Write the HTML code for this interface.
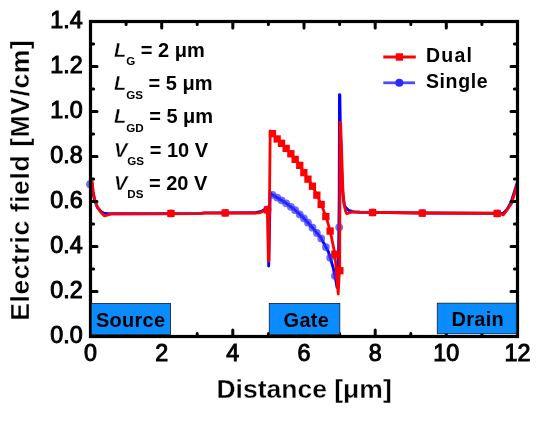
<!DOCTYPE html>
<html><head><meta charset="utf-8"><style>
html,body{margin:0;padding:0;background:#fff;}
svg{display:block;filter:blur(0.35px);}
</style></head><body>
<svg width="550" height="421" viewBox="0 0 550 421">
<rect width="550" height="421" fill="#fff"/>
<polyline points="90.5,184.3 92.5,190.0 94.5,200.0 97.5,207.5 101.0,211.5 104.0,213.2 108.0,213.6 112.0,213.7 200.0,213.6 204.0,212.9 255.0,212.8 262.0,211.2 266.0,208.5 268.0,207.0 268.7,266.0 270.2,192.5 271.2,194.0 284.0,201.7 293.6,208.8 303.1,217.4 311.4,226.4 320.9,237.8 328.5,252.0 333.3,268.2 336.1,281.5 337.0,287.2 338.4,270.0 339.2,200.0 339.5,94.6 339.8,94.8 340.4,130.0 341.5,165.0 342.5,190.0 343.5,200.0 344.6,205.9 346.5,208.5 348.8,210.3 353.5,211.9 360.0,212.2 372.6,212.4 422.3,213.0 497.2,213.3 503.0,213.5 507.0,209.5 511.0,202.5 517.5,182.0" fill="none" stroke="#0000ff" stroke-width="2.9" stroke-linejoin="round"/>
<g fill="rgba(50,50,255,0.7)">
<circle cx="90.0" cy="184.2" r="3.9"/>
<circle cx="171.0" cy="213.3" r="3.9"/>
<circle cx="225.2" cy="212.8" r="3.9"/>
<circle cx="267.5" cy="209.7" r="3.9"/>
<circle cx="272.5" cy="194.8" r="3.9"/>
<circle cx="277.2" cy="197.6" r="3.9"/>
<circle cx="281.6" cy="200.3" r="3.9"/>
<circle cx="286.2" cy="203.3" r="3.9"/>
<circle cx="290.9" cy="206.8" r="3.9"/>
<circle cx="295.2" cy="210.2" r="3.9"/>
<circle cx="299.8" cy="214.4" r="3.9"/>
<circle cx="303.9" cy="218.3" r="3.9"/>
<circle cx="308.0" cy="222.7" r="3.9"/>
<circle cx="312.5" cy="227.7" r="3.9"/>
<circle cx="316.9" cy="233.0" r="3.9"/>
<circle cx="321.2" cy="238.4" r="3.9"/>
<circle cx="325.9" cy="247.1" r="3.9"/>
<circle cx="330.2" cy="257.7" r="3.9"/>
<circle cx="334.9" cy="275.8" r="3.9"/>
<circle cx="339.2" cy="227.3" r="3.9"/>
<circle cx="372.6" cy="212.4" r="3.9"/>
<circle cx="422.3" cy="213.0" r="3.9"/>
<circle cx="497.2" cy="213.3" r="3.9"/>
</g>
<polyline points="91.9,180.5 93.3,192.0 95.3,202.0 97.8,208.0 101.0,212.5 104.3,215.8 108.0,214.8 111.5,213.9 120.0,213.8 200.0,213.7 204.0,213.1 255.0,213.1 259.0,212.8 262.0,211.8 265.0,210.2 267.4,209.0 268.4,261.0 268.9,261.0 270.2,131.0 272.5,133.5 277.2,138.8 281.6,143.2 286.2,148.3 290.9,153.6 295.2,159.2 299.8,165.2 303.9,172.5 308.0,179.0 312.5,186.1 316.9,195.0 321.2,204.3 325.9,216.4 330.2,230.9 334.9,254.1 338.2,294.0 339.7,265.0 339.9,200.0 340.0,122.2 340.6,122.8 341.6,150.0 342.5,180.0 343.2,195.0 344.2,205.0 345.5,211.0 346.7,213.8 349.0,213.0 352.9,211.9 360.0,212.2 372.6,212.4 422.3,213.0 497.2,213.3 501.0,214.0 503.3,214.9 507.0,210.0 511.6,203.3 514.0,195.0 517.5,183.0" fill="none" stroke="#ff0000" stroke-width="2.8" stroke-linejoin="round"/>
<g fill="#ff0000">
<rect x="167.3" y="209.8" width="7.3" height="7.3"/>
<rect x="221.5" y="209.3" width="7.3" height="7.3"/>
<rect x="263.8" y="206.2" width="7.3" height="7.3"/>
<rect x="268.8" y="130.0" width="7.3" height="7.3"/>
<rect x="273.5" y="135.3" width="7.3" height="7.3"/>
<rect x="277.9" y="139.7" width="7.3" height="7.3"/>
<rect x="282.5" y="144.8" width="7.3" height="7.3"/>
<rect x="287.2" y="150.1" width="7.3" height="7.3"/>
<rect x="291.5" y="155.7" width="7.3" height="7.3"/>
<rect x="296.1" y="161.7" width="7.3" height="7.3"/>
<rect x="300.2" y="169.0" width="7.3" height="7.3"/>
<rect x="304.3" y="175.5" width="7.3" height="7.3"/>
<rect x="308.8" y="182.6" width="7.3" height="7.3"/>
<rect x="313.2" y="191.5" width="7.3" height="7.3"/>
<rect x="317.5" y="200.8" width="7.3" height="7.3"/>
<rect x="322.2" y="212.9" width="7.3" height="7.3"/>
<rect x="326.5" y="227.4" width="7.3" height="7.3"/>
<rect x="331.2" y="250.6" width="7.3" height="7.3"/>
<rect x="336.2" y="267.0" width="7.3" height="7.3"/>
<rect x="368.9" y="208.9" width="7.3" height="7.3"/>
<rect x="418.6" y="209.5" width="7.3" height="7.3"/>
<rect x="493.5" y="209.8" width="7.3" height="7.3"/>
</g>
<path d="M126.1,336.5v-3.1M126.1,21.5v3.1M161.7,336.5v-6.5M161.7,21.5v6.5M197.2,336.5v-3.1M197.2,21.5v3.1M232.8,336.5v-6.5M232.8,21.5v6.5M268.4,336.5v-3.1M268.4,21.5v3.1M304.0,336.5v-6.5M304.0,21.5v6.5M339.6,336.5v-3.1M339.6,21.5v3.1M375.2,336.5v-6.5M375.2,21.5v6.5M410.8,336.5v-3.1M410.8,21.5v3.1M446.3,336.5v-6.5M446.3,21.5v6.5M481.9,336.5v-3.1M481.9,21.5v3.1M90.5,314.0h3.1M517.5,314.0h-3.1M90.5,291.5h6.5M517.5,291.5h-6.5M90.5,269.0h3.1M517.5,269.0h-3.1M90.5,246.5h6.5M517.5,246.5h-6.5M90.5,224.0h3.1M517.5,224.0h-3.1M90.5,201.5h6.5M517.5,201.5h-6.5M90.5,179.0h3.1M517.5,179.0h-3.1M90.5,156.5h6.5M517.5,156.5h-6.5M90.5,134.0h3.1M517.5,134.0h-3.1M90.5,111.5h6.5M517.5,111.5h-6.5M90.5,89.0h3.1M517.5,89.0h-3.1M90.5,66.5h6.5M517.5,66.5h-6.5M90.5,44.0h3.1M517.5,44.0h-3.1" stroke="#000" stroke-width="3" stroke-linecap="round" fill="none"/>
<rect x="90.5" y="21.5" width="427" height="315" fill="none" stroke="#000" stroke-width="3.2"/>
<rect x="91.5" y="303.5" width="79" height="31" fill="#0a8cff" stroke="#1a2a44" stroke-width="0.9"/>
<rect x="269.3" y="303.5" width="70.5" height="31" fill="#0a8cff" stroke="#1a2a44" stroke-width="0.9"/>
<rect x="437.3" y="303.2" width="79" height="30.5" fill="#0a8cff" stroke="#1a2a44" stroke-width="0.9"/>
<g font-family="Liberation Sans, Arial, sans-serif" font-size="20" fill="#000" font-weight="bold" letter-spacing="0.25">
<text x="96" y="326.8">Source</text>
<text x="283.6" y="326.5">Gate</text>
<text x="451.6" y="325.5">Drain</text>
</g>
<g font-family="Liberation Sans, Arial, sans-serif" font-size="23.3" fill="#000" stroke="#000" stroke-width="1.0">
<text x="82.6" y="342.6" text-anchor="end">0.0</text>
<text x="82.6" y="297.6" text-anchor="end">0.2</text>
<text x="82.6" y="252.6" text-anchor="end">0.4</text>
<text x="82.6" y="207.5" text-anchor="end">0.6</text>
<text x="82.6" y="162.6" text-anchor="end">0.8</text>
<text x="82.6" y="117.5" text-anchor="end">1.0</text>
<text x="82.6" y="72.5" text-anchor="end">1.2</text>
<text x="82.6" y="27.5" text-anchor="end">1.4</text>
<text x="90.5" y="360.9" text-anchor="middle">0</text>
<text x="161.7" y="360.9" text-anchor="middle">2</text>
<text x="232.8" y="360.9" text-anchor="middle">4</text>
<text x="304.0" y="360.9" text-anchor="middle">6</text>
<text x="375.2" y="360.9" text-anchor="middle">8</text>
<text x="446.3" y="360.9" text-anchor="middle">10</text>
<text x="517.5" y="360.9" text-anchor="middle">12</text>
</g>
<text x="304.1" y="398" text-anchor="middle" font-family="Liberation Sans, Arial, sans-serif" font-weight="bold" font-size="26.5" stroke="#fff" stroke-width="0.3">Distance [μm]</text>
<text transform="translate(28.5,180.2) rotate(-90)" text-anchor="middle" font-family="Liberation Sans, Arial, sans-serif" font-weight="bold" font-size="26.5" letter-spacing="0.6" stroke="#fff" stroke-width="0.3">Electric field [MV/cm]</text>
<g font-family="Liberation Sans, Arial, sans-serif" font-size="20" fill="#000" font-weight="bold">
<text x="114" y="57.2"><tspan font-style="italic" stroke="#fff" stroke-width="0.3">L</tspan><tspan font-size="11.6" dy="8.2">G</tspan><tspan dy="-8.2"> = 2 μm</tspan></text>
<text x="114" y="90.3"><tspan font-style="italic" stroke="#fff" stroke-width="0.3">L</tspan><tspan font-size="11.6" dy="8.2">GS</tspan><tspan dy="-8.2"> = 5 μm</tspan></text>
<text x="114" y="123.4"><tspan font-style="italic" stroke="#fff" stroke-width="0.3">L</tspan><tspan font-size="11.6" dy="8.2">GD</tspan><tspan dy="-8.2"> = 5 μm</tspan></text>
<text x="114" y="156.5"><tspan font-style="italic" stroke="#fff" stroke-width="0.3">V</tspan><tspan font-size="11.6" dy="8.2">GS</tspan><tspan dy="-8.2"> = 10 V</tspan></text>
<text x="114" y="189.6"><tspan font-style="italic" stroke="#fff" stroke-width="0.3">V</tspan><tspan font-size="11.6" dy="8.2">DS</tspan><tspan dy="-8.2"> = 20 V</tspan></text>
</g>
<path d="M383.3,57H415.8" stroke="#ff0000" stroke-width="2.8"/>
<rect x="395.8" y="53.3" width="7.2" height="7.4" fill="#ff0000"/>
<path d="M383.3,82.8H415" stroke="#4a4aff" stroke-width="2.8"/>
<circle cx="399.3" cy="82.7" r="4" fill="#2a2aff"/>
<g font-family="Liberation Sans, Arial, sans-serif" font-size="19.5" fill="#000" font-weight="bold">
<text x="426" y="61.5" letter-spacing="1.2">Dual</text>
<text x="426" y="87.8" letter-spacing="0.6">Single</text>
</g>
</svg>
</body></html>
